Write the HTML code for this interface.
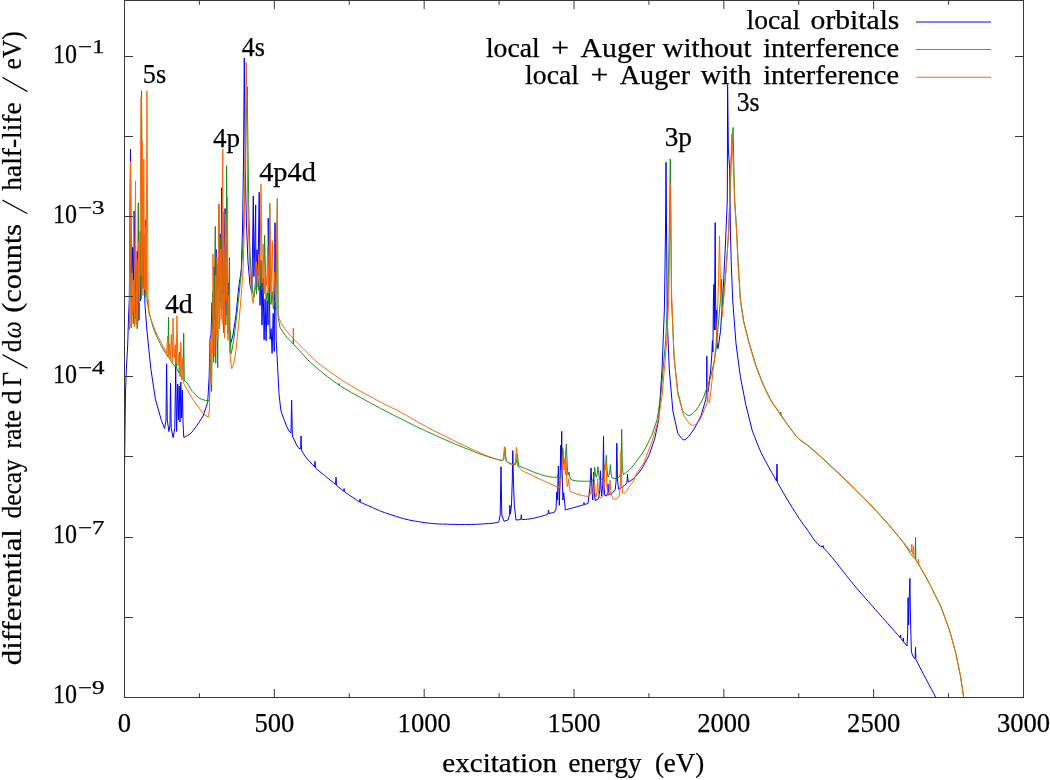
<!DOCTYPE html>
<html lang="en"><head><meta charset="utf-8"><title>differential decay rate</title>
<style>html,body{margin:0;padding:0;background:#fff;}body{width:1050px;height:780px;overflow:hidden;}svg{display:block;}text{font-family:'Liberation Serif', 'DejaVu Serif', serif;fill:#000;stroke:#000;stroke-width:0.25px;}</style>
</head><body>
<svg width="1050" height="780" viewBox="0 0 1050 780">
<rect x="0" y="0" width="1050" height="780" fill="#ffffff"/>
<defs><clipPath id="cp"><rect x="124.5" y="0.5" width="899.0" height="697.0"/></clipPath></defs>
<g clip-path="url(#cp)" fill="none" stroke-linejoin="round" stroke-linecap="butt">
<polyline stroke="#0000ff" stroke-width="1.0" points="124.6,465.0 125.0,430.0 125.5,392.0 126.3,370.0 127.7,345.0 128.6,315.0 129.3,300.0 130.5,149.2 131.5,301.4 132.7,247.3 133.8,285.1 134.1,211.0 136.0,313.0 137.2,251.1 138.3,320.5 139.4,267.5 140.5,301.0 142.6,206.0 142.8,288.6 143.9,268.1 145.0,305.4 145.1,307.0 146.9,330.0 150.8,368.5 155.4,399.2 161.5,420.8 163.1,424.7 164.6,428.5 166.0,420.0 166.6,363.8 167.3,420.0 168.9,431.5 170.0,425.0 170.5,383.0 171.2,428.0 173.1,437.7 174.8,428.0 175.7,367.0 176.6,431.5 177.7,384.0 178.5,420.0 179.2,386.0 180.0,422.0 180.8,382.0 181.6,418.0 182.4,390.0 183.1,425.0 183.8,437.4 185.6,436.5 187.4,435.7 189.2,434.6 191.1,432.9 193.1,430.6 195.0,428.0 196.9,425.4 199.0,422.4 201.0,419.2 203.1,416.0 207.7,402.3 209.2,376.0 210.0,339.0 211.0,334.9 212.0,302.6 213.0,328.2 214.0,266.9 215.0,320.6 216.1,249.4 217.1,305.1 218.1,264.2 219.1,284.2 220.1,234.1 221.1,302.1 221.5,187.8 223.1,294.3 225.1,208.5 225.1,305.4 226.2,245.4 227.2,315.4 228.2,283.0 229.2,331.9 230.2,341.4 230.2,345.4 233.0,335.0 236.0,315.0 238.6,288.0 241.3,270.0 242.5,230.0 243.5,160.0 244.3,58.0 245.3,170.0 246.5,225.0 248.0,262.0 250.0,285.0 251.8,292.0 251.9,291.6 253.3,195.9 253.9,276.5 255.7,204.9 255.9,289.1 257.0,249.8 258.0,275.4 259.2,192.3 260.0,305.4 261.0,260.5 262.0,325.1 263.0,278.3 264.1,339.7 265.1,299.0 266.1,340.8 267.1,300.4 268.1,325.1 268.2,218.3 270.1,339.3 271.1,328.7 272.1,353.3 273.2,313.4 274.2,351.4 275.0,222.8 276.2,340.5 276.3,341.8 279.0,393.9 280.8,410.0 282.0,414.0 284.3,420.2 286.7,426.4 289.0,431.0 291.0,433.0 291.6,400.0 292.4,436.0 294.3,439.9 296.2,444.1 298.1,447.6 300.0,449.0 300.7,448.0 301.0,436.0 301.5,450.0 303.2,453.2 305.0,456.0 307.4,459.1 309.9,461.8 312.3,464.4 314.7,467.0 315.0,461.4 315.4,468.0 317.6,469.8 319.9,471.7 322.1,473.5 324.4,475.3 326.6,477.2 328.9,479.0 331.1,480.8 333.4,482.7 335.6,484.5 336.0,477.3 336.5,485.5 338.9,487.4 341.4,489.3 343.8,491.2 344.1,488.6 344.4,491.8 346.6,493.3 348.7,494.7 350.9,496.2 353.1,497.6 355.3,499.1 357.4,500.5 359.6,502.0 360.0,499.0 360.4,502.3 362.8,503.3 365.2,504.4 367.6,505.4 370.0,506.5 372.4,507.5 374.7,508.6 377.1,509.6 379.5,510.6 381.9,511.6 384.3,512.5 386.7,513.3 389.1,514.1 391.5,514.9 394.0,515.7 396.4,516.5 398.8,517.2 401.2,518.0 403.6,518.6 406.0,519.3 408.5,519.8 410.9,520.4 413.3,520.8 415.7,521.2 418.2,521.6 420.6,522.0 423.0,522.4 425.4,522.7 427.9,523.0 430.3,523.3 432.7,523.5 435.1,523.7 437.6,523.9 440.0,524.0 442.4,524.1 444.9,524.1 447.3,524.2 449.7,524.3 452.1,524.3 454.6,524.4 457.0,524.4 459.4,524.5 461.8,524.5 464.3,524.5 466.7,524.5 469.1,524.5 471.5,524.4 474.0,524.4 476.4,524.3 478.8,524.2 481.2,524.0 483.6,523.9 486.0,523.7 488.5,523.6 490.9,523.4 493.3,523.2 495.1,522.9 496.9,522.5 498.7,522.0 500.2,515.0 501.0,466.7 501.8,515.0 504.0,521.3 506.0,520.6 508.0,520.0 509.5,515.0 509.9,505.3 510.4,514.0 511.5,505.0 512.3,480.0 512.8,450.7 513.4,480.0 514.3,505.0 516.0,520.0 518.4,519.8 520.8,519.5 521.3,514.7 521.8,519.5 522.7,519.5 525.1,519.4 527.5,519.2 529.9,518.9 532.3,518.5 534.7,518.0 537.1,517.4 539.5,516.8 541.9,516.1 544.3,515.4 546.7,514.7 548.0,514.0 548.5,510.0 549.0,513.5 550.9,513.1 552.8,512.7 554.7,512.0 556.0,509.0 556.8,492.0 557.4,500.0 558.4,466.0 559.3,505.3 560.1,480.0 560.7,445.3 561.2,470.0 561.7,431.3 562.3,480.0 562.9,500.0 563.7,492.7 565.3,510.0 566.7,509.6 569.1,508.9 571.5,508.2 573.9,507.5 576.4,506.9 578.8,506.2 581.2,505.5 583.6,504.8 584.0,502.5 584.4,504.6 586.2,504.0 588.0,503.3 590.0,486.7 591.1,468.0 592.0,490.0 592.7,500.0 593.7,472.0 594.5,495.0 595.3,500.7 597.0,499.7 598.7,498.7 599.8,490.0 600.4,470.7 601.0,488.0 601.6,496.0 602.8,485.0 603.5,436.3 604.1,485.0 604.7,495.3 606.7,496.0 607.6,492.0 608.0,484.0 608.5,492.0 609.3,494.7 611.0,493.8 612.7,492.7 615.3,489.3 616.2,480.0 616.8,443.3 617.5,480.0 618.7,489.3 620.7,488.0 622.7,486.7 624.7,485.1 626.7,483.3 627.2,480.0 627.5,474.0 627.9,480.0 628.5,482.0 630.9,480.5 633.3,478.7 635.3,476.8 637.3,474.6 639.3,472.1 641.3,469.3 643.3,466.1 645.3,462.4 647.3,458.5 649.3,454.7 654.7,438.7 658.7,420.0 662.0,369.8 664.4,308.8 665.5,230.0 666.0,162.3 666.6,240.0 667.3,321.0 669.3,369.8 672.9,411.2 677.8,433.2 679.8,436.0 681.9,438.7 683.9,440.0 686.3,438.9 688.8,436.3 691.2,433.2 693.7,429.7 696.1,425.3 698.5,420.6 701.0,416.1 705.9,399.0 706.5,390.0 706.8,356.3 707.3,388.0 708.3,391.7 710.7,369.8 711.8,355.0 712.4,340.5 712.9,352.0 713.4,300.0 713.9,284.4 714.3,330.0 714.7,290.0 715.2,222.6 715.6,300.0 716.0,330.0 716.4,310.0 716.8,342.0 718.0,348.7 720.5,331.3 723.6,282.0 725.6,241.0 727.3,200.0 727.6,84.6 728.4,150.0 729.7,170.0 730.4,230.8 731.2,261.5 732.7,300.0 736.0,343.6 740.3,376.3 745.8,404.7 752.3,430.8 754.5,436.4 756.7,442.1 758.9,447.6 761.1,452.6 763.3,457.0 765.5,461.1 767.6,465.1 769.8,469.0 771.9,472.8 774.0,476.5 776.5,481.0 777.0,464.0 777.4,482.5 779.5,486.1 781.6,489.8 783.7,493.4 785.8,497.0 787.9,500.6 790.0,504.0 792.3,507.6 794.6,511.3 796.9,514.9 799.1,518.3 801.4,521.7 803.7,525.0 806.0,528.0 808.4,531.3 810.7,534.9 813.1,538.4 815.5,541.6 817.9,544.3 820.2,546.1 822.6,546.8 823.1,545.5 823.6,548.0 825.7,550.3 827.9,552.6 830.0,555.0 832.4,557.8 834.7,560.7 837.1,563.6 839.4,566.6 841.8,569.7 844.2,572.7 846.5,575.7 848.9,578.7 851.2,581.6 853.6,584.5 856.0,587.4 858.4,590.2 860.9,593.0 863.3,595.8 865.7,598.6 868.1,601.3 870.6,604.1 873.0,606.8 875.4,609.6 877.8,612.4 880.2,615.1 882.7,617.8 885.1,620.5 887.5,623.2 889.9,626.0 892.4,628.7 894.8,631.4 897.2,634.2 898.8,636.0 900.3,637.8 900.6,635.0 901.0,638.5 903.0,641.0 903.3,638.0 903.7,642.0 905.4,644.0 907.0,646.0 907.6,635.0 908.1,597.6 908.6,625.0 909.2,600.0 909.9,578.4 910.5,620.0 911.4,652.1 913.0,656.2 914.7,658.7 915.2,658.0 915.5,647.1 915.9,659.5 917.9,663.4 919.8,667.1 921.8,670.9 923.7,674.6 925.6,678.3 927.6,682.1 929.7,685.9 931.7,689.7 933.8,693.5 935.8,697.5 937.0,700.0"/>
<polyline stroke="#118811" stroke-width="0.95" points="129.4,329.6 130.4,243.5 131.4,328.0 132.3,295.7 133.3,323.8 134.3,284.1 135.3,318.9 136.3,272.8 137.2,328.7 138.3,202.8 139.2,319.6 140.2,231.6 141.1,299.0 141.5,90.9 143.1,287.2 144.1,235.0 145.1,297.3 145.4,219.7 147.0,301.6 148.0,305.4 148.2,308.0 150.0,316.0 153.0,327.0 156.0,335.0 158.0,339.1 160.0,343.2 162.0,347.0 164.0,350.5 166.0,353.7 168.0,357.0 168.5,317.4 169.0,358.0 170.8,360.8 173.1,364.0 175.4,367.0 176.0,345.0 176.6,368.0 179.0,373.0 179.6,352.0 180.2,375.0 183.0,379.0 183.7,333.0 184.3,381.0 184.6,380.8 186.5,382.1 188.4,385.1 190.4,388.7 192.3,391.5 194.6,393.9 196.9,396.1 199.2,398.0 201.5,399.2 203.7,399.9 205.8,400.5 208.0,400.7 209.5,399.9 210.5,360.2 211.6,391.4 212.6,291.5 213.6,362.3 215.3,226.4 215.7,363.3 216.7,274.9 217.7,367.7 218.9,204.0 219.8,308.3 220.8,236.9 221.8,309.7 222.8,272.2 223.8,333.0 224.9,252.7 225.9,325.2 226.6,165.7 227.9,332.7 229.5,257.8 230.0,343.8 230.0,330.0 230.9,354.0 232.0,350.0 234.0,338.0 236.0,322.0 238.5,300.0 241.0,275.0 243.0,245.0 244.5,200.0 246.0,130.0 247.2,86.7 248.0,150.0 248.8,210.0 249.8,245.0 251.0,275.0 252.5,292.0 254.0,296.0 254.1,297.2 255.3,282.6 256.5,294.2 257.7,272.5 258.9,290.5 260.1,261.5 261.3,290.3 262.5,285.3 263.7,290.9 264.6,235.4 266.1,299.9 267.4,292.8 268.6,303.2 269.7,203.4 271.0,304.4 272.2,291.4 273.4,308.8 274.6,300.6 275.8,310.1 277.4,198.6 278.2,317.0 278.2,318.0 280.0,327.3 281.8,330.1 283.5,332.8 285.3,335.3 287.2,337.6 289.2,339.7 291.2,341.7 293.1,343.8 293.3,337.3 293.6,344.4 295.5,346.5 297.5,348.6 299.4,350.6 301.3,352.7 303.3,354.9 305.3,357.1 307.3,359.3 309.3,361.3 311.5,363.4 313.8,365.4 316.0,367.3 318.2,369.2 320.4,371.0 322.6,372.8 324.9,374.6 327.1,376.3 329.3,378.0 331.8,379.8 334.2,381.6 336.7,383.3 339.1,385.1 339.3,383.5 339.6,385.5 342.0,387.0 344.5,388.4 346.9,389.9 349.3,391.3 351.5,392.6 353.8,393.8 356.0,395.0 358.2,396.3 360.5,397.5 362.7,398.7 364.9,399.9 367.1,401.2 369.4,402.4 371.6,403.6 373.8,404.8 376.0,406.0 378.3,407.2 380.7,408.5 383.0,409.7 385.3,410.9 387.7,412.1 390.0,413.3 392.2,414.4 394.4,415.6 396.6,416.7 398.9,417.8 401.1,418.9 403.3,420.0 405.5,421.1 407.8,422.3 410.0,423.4 412.2,424.5 414.5,425.6 416.7,426.7 418.9,427.8 421.1,428.8 423.4,429.8 425.6,430.9 427.8,431.9 430.0,432.9 432.2,433.9 434.4,434.9 436.6,435.9 438.9,436.9 441.1,437.9 443.3,438.9 445.5,439.9 447.8,440.9 450.0,441.8 452.2,442.8 454.5,443.8 456.7,444.7 458.9,445.6 461.1,446.5 463.4,447.4 465.6,448.3 467.8,449.1 470.0,450.0 472.2,450.9 474.4,451.8 476.6,452.6 478.9,453.5 481.1,454.3 483.3,455.1 485.5,455.9 487.8,456.6 490.0,457.4 492.2,458.1 494.5,458.7 496.7,459.3 498.5,459.8 500.2,460.2 502.0,460.4 503.8,459.8 504.9,447.3 506.3,461.3 508.1,462.4 510.0,463.3 511.8,463.9 513.5,464.5 515.3,464.7 516.4,462.0 517.3,454.0 518.7,466.0 521.0,466.9 523.2,467.7 525.5,468.6 527.7,469.5 530.0,470.4 531.6,471.2 533.3,472.0 535.7,472.8 538.1,473.6 540.4,474.4 542.8,475.2 545.2,475.9 547.6,476.4 549.9,476.9 552.3,477.2 554.7,477.3 557.3,477.3 557.7,474.7 558.1,477.5 560.0,478.0 561.5,470.0 562.7,448.0 563.4,460.0 564.0,464.0 565.2,460.0 566.4,444.0 567.2,465.0 568.0,475.3 569.0,472.0 569.8,477.0 570.7,479.3 572.9,480.2 575.1,480.7 577.3,481.0 579.6,481.1 582.0,481.2 584.4,481.3 586.7,481.3 588.7,481.2 590.7,480.9 592.7,480.7 593.8,477.0 594.7,467.3 595.5,475.0 596.3,477.3 597.2,474.0 598.0,466.7 598.9,476.0 600.0,480.0 603.0,479.0 604.0,473.0 604.7,464.7 605.5,468.0 606.3,455.3 607.1,470.0 608.0,477.3 609.4,474.0 610.4,464.7 611.2,474.0 612.0,478.0 614.0,478.4 616.0,478.7 618.0,477.7 620.0,476.0 621.0,468.0 621.7,429.3 622.4,468.0 623.3,474.7 625.8,472.8 628.2,470.9 630.7,468.7 633.0,465.9 635.3,462.7 637.5,459.9 639.6,457.0 641.8,454.0 644.0,450.7 646.0,447.1 648.0,443.1 650.0,438.8 652.0,434.7 657.0,420.0 660.7,396.6 665.6,340.5 668.0,296.6 669.5,220.0 670.3,159.0 671.0,230.0 671.4,296.6 674.1,357.6 677.8,391.7 682.7,411.2 684.7,413.0 686.8,414.8 688.8,415.6 691.2,414.7 693.7,412.6 696.1,410.0 698.5,406.6 701.0,402.2 703.4,397.8 710.7,377.0 714.0,362.0 716.4,347.7 718.5,323.0 720.5,298.5 721.2,291.0 721.5,279.0 721.9,293.0 722.6,305.0 724.2,291.5 726.7,261.0 728.7,230.0 729.8,200.0 731.0,165.0 733.1,127.4 733.8,165.0 734.7,200.0 736.7,230.8 738.1,261.5 740.5,300.0 743.8,321.6 749.3,343.3 755.8,365.0 757.7,370.0 759.6,375.1 761.5,380.0 763.4,384.6 765.6,389.4 767.8,394.0 770.0,398.3 772.2,402.2 774.1,405.1 776.0,407.6 777.8,410.2 779.7,413.2 780.3,414.5 780.7,412.0 781.1,415.0 783.3,418.3 785.5,421.6 787.8,424.9 790.0,428.0 792.0,430.7 794.0,433.4 796.0,435.9 798.0,438.0 800.4,440.2 802.8,442.0 805.2,443.8 807.6,445.6 810.0,447.5 812.2,449.4 814.4,451.3 816.7,453.3 818.9,455.3 821.1,457.3 823.3,459.3 825.6,461.4 827.8,463.4 830.0,465.5 832.2,467.6 834.4,469.6 836.7,471.7 838.9,473.8 841.1,475.9 843.3,478.1 845.6,480.2 847.8,482.3 850.0,484.5 852.2,486.7 854.4,488.8 856.7,491.0 858.9,493.2 861.1,495.4 863.3,497.7 865.6,499.9 867.8,502.2 870.0,504.5 872.2,506.8 874.4,509.2 876.7,511.6 878.9,514.0 881.1,516.5 883.3,518.9 885.6,521.4 887.8,523.9 890.0,526.5 892.3,529.2 894.7,532.0 897.0,534.8 899.3,537.6 901.7,540.5 904.0,543.5 906.1,546.6 908.3,549.9 910.4,553.3 912.6,556.2 914.7,558.3 915.1,558.5 915.5,537.2 915.9,560.0 918.3,564.0 920.6,568.0 923.0,572.0 925.3,576.1 927.7,580.4 929.9,584.5 932.1,588.8 934.2,593.2 936.4,597.7 938.6,602.1 940.8,606.5 949.6,630.5 956.1,654.5 960.5,676.3 963.7,697.5 964.2,701.0"/>
<polyline stroke="#ff6508" stroke-width="1.0" points="129.3,327.3 130.5,161.0 131.0,326.6 131.9,273.3 132.7,314.5 133.6,280.3 134.4,326.9 135.5,180.9 136.1,324.5 137.0,259.2 137.8,319.8 138.7,241.4 139.5,302.5 141.1,96.8 141.2,275.6 142.1,140.9 142.9,295.5 143.8,159.3 144.6,289.8 145.4,226.5 146.3,293.3 146.9,90.9 148.0,301.8 148.2,300.0 148.9,313.0 152.0,322.0 153.9,327.1 155.9,332.0 157.6,335.5 159.2,338.7 161.6,343.4 164.0,348.0 166.5,353.0 167.7,336.0 168.4,355.7 169.4,343.8 170.3,359.2 171.3,334.5 172.3,363.2 173.0,318.0 174.2,358.4 175.2,344.7 176.1,364.1 176.9,315.8 178.0,365.7 179.0,354.0 180.0,376.7 180.8,342.3 181.9,380.5 182.8,357.7 183.8,383.9 183.8,383.8 185.9,387.4 188.0,391.0 189.9,394.4 191.9,397.7 193.8,400.8 196.2,404.0 198.5,407.0 200.8,410.2 203.1,413.1 206.0,416.0 208.5,416.9 209.3,410.0 209.5,410.3 210.3,339.8 211.2,384.0 212.0,334.5 212.8,353.1 212.9,254.0 214.5,356.3 215.4,275.5 216.2,334.6 217.0,257.2 217.9,339.4 218.9,204.0 219.6,328.8 220.4,249.4 221.2,318.7 222.8,149.0 222.9,324.2 223.7,211.4 224.6,337.8 225.4,214.5 226.2,300.5 227.6,197.7 227.9,340.4 228.8,294.9 229.6,352.0 229.8,350.0 230.8,363.0 231.8,368.7 233.0,366.0 234.5,360.0 235.9,350.8 238.0,330.0 240.4,305.9 242.0,285.0 243.1,270.0 244.2,230.0 245.2,160.0 245.8,100.0 246.3,62.4 246.8,100.0 247.3,170.0 248.0,215.0 249.0,245.0 250.0,270.0 251.5,292.0 253.0,303.2 253.1,302.2 254.2,290.5 255.3,288.4 256.5,261.7 257.6,286.8 258.7,254.1 259.8,285.9 261.0,184.2 262.1,283.0 263.2,244.0 264.3,293.9 265.4,271.4 266.6,285.7 267.7,246.1 268.8,293.3 269.7,203.4 271.0,291.1 272.4,240.8 273.3,305.5 274.4,272.1 275.5,301.5 277.4,198.6 277.8,315.5 278.9,316.0 279.0,318.5 281.3,323.3 283.1,326.3 284.9,328.9 286.7,331.3 288.8,333.8 291.0,336.1 293.1,338.4 293.3,328.0 293.6,339.0 295.5,340.9 297.5,342.9 299.4,344.8 301.3,346.7 303.3,348.7 305.3,350.7 307.3,352.7 309.3,354.7 311.5,357.0 313.8,359.2 316.0,361.3 318.2,363.1 320.4,364.9 322.6,366.5 324.9,368.1 327.1,369.7 329.3,371.3 331.5,372.9 333.8,374.5 336.0,376.1 338.2,377.7 340.5,379.2 342.7,380.7 344.9,382.1 347.1,383.5 349.4,384.8 351.6,386.1 353.8,387.4 356.0,388.7 358.2,390.0 360.4,391.2 362.6,392.4 364.9,393.6 367.1,394.8 369.3,396.0 371.5,397.2 373.8,398.5 376.0,399.7 378.2,401.0 380.5,402.2 382.7,403.3 385.1,404.5 387.6,405.6 390.0,406.7 392.2,407.8 394.4,409.0 396.6,410.1 398.9,411.3 401.1,412.5 403.3,413.7 405.5,414.9 407.8,416.2 410.0,417.5 412.2,418.8 414.5,420.0 416.7,421.3 418.9,422.6 421.1,423.8 423.4,425.1 425.6,426.3 427.8,427.5 430.0,428.7 432.2,429.8 434.4,431.0 436.6,432.0 438.9,433.1 441.1,434.2 443.3,435.3 445.5,436.4 447.8,437.5 450.0,438.7 452.2,439.8 454.5,440.9 456.7,442.0 458.9,443.1 461.1,444.1 463.4,445.2 465.6,446.2 467.8,447.3 470.0,448.3 472.2,449.3 474.4,450.4 476.6,451.4 478.9,452.4 481.1,453.4 483.3,454.3 485.5,455.2 487.8,456.0 490.0,456.9 492.2,457.7 494.5,458.4 496.7,459.1 498.5,459.7 500.2,460.2 502.0,460.4 503.3,459.3 504.4,446.7 505.7,460.7 507.9,462.5 510.0,464.0 512.7,464.9 514.0,462.7 515.3,464.7 516.4,447.3 517.7,466.7 519.6,468.3 521.4,470.0 523.3,471.3 525.5,472.4 527.8,473.3 530.0,474.3 531.6,475.1 533.3,476.0 535.6,477.1 538.0,478.2 540.3,479.3 542.6,480.4 545.0,481.4 547.3,482.5 549.7,483.5 552.0,484.5 553.8,485.3 555.5,486.1 557.3,486.7 560.0,487.3 562.0,470.7 562.6,465.0 563.3,450.0 564.0,470.0 564.7,458.7 565.3,475.0 566.0,460.0 566.6,478.0 567.3,486.7 568.1,484.0 568.7,478.7 569.3,486.0 570.0,491.3 572.4,492.4 574.7,493.3 576.9,494.0 579.1,494.7 581.4,495.3 583.6,495.8 585.8,496.2 588.0,496.3 590.0,494.7 590.8,492.0 591.3,486.7 591.9,493.0 593.5,495.0 594.4,482.7 595.2,494.0 596.0,497.3 597.0,492.0 597.6,478.7 598.4,492.0 600.0,498.0 603.0,496.0 604.3,485.0 605.0,464.0 605.5,470.0 606.0,462.0 606.8,485.0 608.0,496.0 609.2,492.0 610.0,480.0 610.8,492.0 612.7,498.7 614.4,499.1 616.0,499.3 617.6,498.1 619.3,496.0 620.4,485.0 621.0,451.3 621.7,485.0 622.7,493.3 625.3,492.7 627.0,490.4 628.7,487.3 631.0,484.5 633.3,481.3 636.0,474.7 638.0,471.3 640.0,468.3 642.0,465.6 644.0,462.7 652.0,441.3 658.0,421.3 662.0,396.6 666.8,340.5 668.8,296.6 669.8,230.0 670.3,184.0 670.9,240.0 671.7,296.6 674.1,357.6 677.8,394.1 683.9,416.1 686.0,418.9 688.1,421.9 690.3,424.4 692.4,425.4 694.4,425.0 696.5,423.8 698.5,422.2 700.5,419.0 702.6,413.9 704.6,408.8 707.2,403.0 707.6,362.4 708.0,401.5 709.5,402.7 711.0,390.0 713.2,369.8 714.4,360.0 716.0,343.6 717.4,314.9 718.5,282.0 719.5,235.9 720.5,288.2 722.2,317.0 724.2,292.3 726.7,261.5 728.7,230.8 729.7,200.0 730.6,170.0 731.8,134.0 732.6,150.0 733.5,170.0 734.5,200.0 736.5,230.8 737.9,261.5 740.3,300.0 743.6,321.8 749.1,343.6 755.6,365.4 757.5,370.4 759.4,375.5 761.3,380.5 763.2,385.0 765.4,389.8 767.6,394.4 769.8,398.6 772.0,402.5 773.9,405.3 775.8,407.8 777.7,410.4 779.6,413.4 780.5,415.6 781.0,413.0 781.5,416.5 783.6,419.4 785.8,422.3 787.9,425.2 790.0,428.0 792.0,430.7 794.0,433.4 796.0,435.9 798.0,438.0 800.0,439.7 802.0,441.1 804.0,442.5 806.0,444.0 808.0,445.4 810.0,447.0 812.2,448.9 814.4,450.8 816.7,452.7 818.9,454.7 821.1,456.8 823.3,458.8 825.6,460.9 827.8,462.9 830.0,465.0 832.2,467.1 834.4,469.1 836.7,471.2 838.9,473.3 841.1,475.4 843.3,477.6 845.6,479.7 847.8,481.8 850.0,484.0 852.2,486.2 854.4,488.3 856.7,490.5 858.9,492.7 861.1,494.9 863.3,497.2 865.6,499.4 867.8,501.7 870.0,504.0 872.2,506.3 874.4,508.7 876.7,511.1 878.9,513.5 881.1,516.0 883.3,518.4 885.6,520.9 887.8,523.4 890.0,526.0 892.3,528.7 894.7,531.5 897.0,534.4 899.3,537.3 901.7,540.1 904.0,543.0 906.4,546.0 908.9,549.0 911.3,552.0 911.8,544.2 912.3,553.0 913.1,554.5 913.5,546.0 913.9,556.0 914.7,558.3 916.4,560.6 918.1,563.0 918.4,559.0 918.8,564.5 921.0,568.4 923.2,572.2 925.5,576.1 927.7,580.2 929.9,584.4 932.1,588.7 934.2,593.1 936.4,597.5 938.6,601.9 940.8,606.3 949.6,630.3 956.1,654.3 960.5,676.1 963.7,697.5 964.2,701.0"/>
</g>
<g stroke="#383838" stroke-width="1" fill="none">
<rect x="124.5" y="0.5" width="899.0" height="697.0"/>
<path d="M199.42 697.5V693.2M199.42 0.5V4.8"/>
<path d="M274.33 697.5V689.0M274.33 0.5V9.0"/>
<path d="M349.25 697.5V693.2M349.25 0.5V4.8"/>
<path d="M424.17 697.5V689.0M424.17 0.5V9.0"/>
<path d="M499.08 697.5V693.2M499.08 0.5V4.8"/>
<path d="M574.00 697.5V689.0M574.00 0.5V9.0"/>
<path d="M648.92 697.5V693.2M648.92 0.5V4.8"/>
<path d="M723.83 697.5V689.0M723.83 0.5V9.0"/>
<path d="M798.75 697.5V693.2M798.75 0.5V4.8"/>
<path d="M873.67 697.5V689.0M873.67 0.5V9.0"/>
<path d="M948.58 697.5V693.2M948.58 0.5V4.8"/>
<path d="M124.5 56.5H133.0M1023.5 56.5H1015.0"/>
<path d="M124.5 136.5H133.0M1023.5 136.5H1015.0"/>
<path d="M124.5 216.5H133.0M1023.5 216.5H1015.0"/>
<path d="M124.5 296.5H133.0M1023.5 296.5H1015.0"/>
<path d="M124.5 376.5H133.0M1023.5 376.5H1015.0"/>
<path d="M124.5 456.5H133.0M1023.5 456.5H1015.0"/>
<path d="M124.5 537.5H133.0M1023.5 537.5H1015.0"/>
<path d="M124.5 617.5H133.0M1023.5 617.5H1015.0"/>
</g>
<g fill="none">
<path d="M916 22H991" stroke="#0000ff" stroke-width="1.15"/>
<path d="M916 49.5H991" stroke="#118811" stroke-width="0.78"/>
<path d="M916 77.3H991" stroke="#ff6508" stroke-width="1.1"/>
</g>
<text y="28.7" font-size="26.5"><tspan x="746.6" textLength="53.7" lengthAdjust="spacingAndGlyphs">local</tspan> <tspan x="810.6" textLength="88.8" lengthAdjust="spacingAndGlyphs">orbitals</tspan></text>
<text y="56.6" font-size="26.5"><tspan x="485.9" textLength="53.8" lengthAdjust="spacingAndGlyphs">local</tspan> <tspan x="551.2" textLength="17.8" lengthAdjust="spacingAndGlyphs">+</tspan> <tspan x="580.6" textLength="74.3" lengthAdjust="spacingAndGlyphs">Auger</tspan> <tspan x="662.4" textLength="89.1" lengthAdjust="spacingAndGlyphs">without</tspan> <tspan x="763.2" textLength="135.9" lengthAdjust="spacingAndGlyphs">interference</tspan></text>
<text y="84.4" font-size="26.5"><tspan x="525.1" textLength="53.8" lengthAdjust="spacingAndGlyphs">local</tspan> <tspan x="590.4" textLength="17.8" lengthAdjust="spacingAndGlyphs">+</tspan> <tspan x="619.8" textLength="70.3" lengthAdjust="spacingAndGlyphs">Auger</tspan> <tspan x="700.8" textLength="50.7" lengthAdjust="spacingAndGlyphs">with</tspan> <tspan x="763.2" textLength="135.9" lengthAdjust="spacingAndGlyphs">interference</tspan></text>
<text y="732.3" font-size="26.6"><tspan x="117.8" textLength="13.3" lengthAdjust="spacingAndGlyphs">0</tspan></text>
<text y="732.3" font-size="26.6"><tspan x="254.4" textLength="39.9" lengthAdjust="spacingAndGlyphs">500</tspan></text>
<text y="732.3" font-size="26.6"><tspan x="397.6" textLength="53.2" lengthAdjust="spacingAndGlyphs">1000</tspan></text>
<text y="732.3" font-size="26.6"><tspan x="547.4" textLength="53.2" lengthAdjust="spacingAndGlyphs">1500</tspan></text>
<text y="732.3" font-size="26.6"><tspan x="697.2" textLength="53.2" lengthAdjust="spacingAndGlyphs">2000</tspan></text>
<text y="732.3" font-size="26.6"><tspan x="847.1" textLength="53.2" lengthAdjust="spacingAndGlyphs">2500</tspan></text>
<text y="732.3" font-size="26.6"><tspan x="996.9" textLength="53.2" lengthAdjust="spacingAndGlyphs">3000</tspan></text>
<text y="772.1" font-size="26.5"><tspan x="442.3" textLength="114.8" lengthAdjust="spacingAndGlyphs">excitation</tspan> <tspan x="568.6" textLength="72.8" lengthAdjust="spacingAndGlyphs">energy</tspan> <tspan x="654.9" textLength="49.4" lengthAdjust="spacingAndGlyphs">(eV)</tspan></text>
<text y="62.7" font-size="26.6"><tspan x="53.0" textLength="24.0" lengthAdjust="spacingAndGlyphs">10</tspan><tspan x="78.0" y="53.4" font-size="18.6" textLength="26.6" lengthAdjust="spacingAndGlyphs">−1</tspan></text>
<text y="222.9" font-size="26.6"><tspan x="53.0" textLength="24.0" lengthAdjust="spacingAndGlyphs">10</tspan><tspan x="78.0" y="213.6" font-size="18.6" textLength="26.6" lengthAdjust="spacingAndGlyphs">−3</tspan></text>
<text y="383.1" font-size="26.6"><tspan x="53.0" textLength="24.0" lengthAdjust="spacingAndGlyphs">10</tspan><tspan x="78.0" y="373.8" font-size="18.6" textLength="26.6" lengthAdjust="spacingAndGlyphs">−4</tspan></text>
<text y="543.2" font-size="26.6"><tspan x="53.0" textLength="24.0" lengthAdjust="spacingAndGlyphs">10</tspan><tspan x="78.0" y="533.9" font-size="18.6" textLength="26.6" lengthAdjust="spacingAndGlyphs">−7</tspan></text>
<text y="703.4" font-size="26.6"><tspan x="53.0" textLength="24.0" lengthAdjust="spacingAndGlyphs">10</tspan><tspan x="78.0" y="694.1" font-size="18.6" textLength="26.6" lengthAdjust="spacingAndGlyphs">−9</tspan></text>
<text transform="rotate(-90)" y="21.3" font-size="26.5"><tspan x="-665.2" y="21.3" textLength="136.0" lengthAdjust="spacingAndGlyphs">differential</tspan> <tspan x="-518.4" textLength="59.2" lengthAdjust="spacingAndGlyphs">decay</tspan> <tspan x="-448.5" textLength="38.5" lengthAdjust="spacingAndGlyphs">rate</tspan> <tspan x="-404.5" textLength="14.1" lengthAdjust="spacingAndGlyphs">d</tspan><tspan x="-386.2" textLength="14.2" lengthAdjust="spacingAndGlyphs">Γ</tspan><tspan x="-370.1" y="28.4" font-size="41" textLength="17.2" lengthAdjust="spacingAndGlyphs" style="stroke:#fff;stroke-width:0.9px">/</tspan><tspan x="-352.3" y="21.3" textLength="12.7" lengthAdjust="spacingAndGlyphs">d</tspan><tspan x="-338.2" textLength="16.9" lengthAdjust="spacingAndGlyphs" font-style="italic">ω</tspan> <tspan x="-312.8" textLength="88.8" lengthAdjust="spacingAndGlyphs">(counts</tspan> <tspan x="-215.4" y="28.4" font-size="41" textLength="17.1" lengthAdjust="spacingAndGlyphs" style="stroke:#fff;stroke-width:0.9px">/</tspan> <tspan x="-190.7" y="21.3" textLength="88.3" lengthAdjust="spacingAndGlyphs">half-life</tspan> <tspan x="-93.6" y="28.4" font-size="41" textLength="18.0" lengthAdjust="spacingAndGlyphs" style="stroke:#fff;stroke-width:0.9px">/</tspan> <tspan x="-69.4" y="21.3" textLength="38.1" lengthAdjust="spacingAndGlyphs">eV)</tspan></text>
<text y="83.0" font-size="26.5"><tspan x="142.8" textLength="23.3" lengthAdjust="spacingAndGlyphs">5s</tspan></text>
<text y="55.5" font-size="26.5"><tspan x="241.7" textLength="23.3" lengthAdjust="spacingAndGlyphs">4s</tspan></text>
<text y="146.5" font-size="26.5"><tspan x="212.9" textLength="27.0" lengthAdjust="spacingAndGlyphs">4p</tspan></text>
<text y="180.7" font-size="26.5"><tspan x="259.2" textLength="56.6" lengthAdjust="spacingAndGlyphs">4p4d</tspan></text>
<text y="313.2" font-size="26.5"><tspan x="164.9" textLength="27.8" lengthAdjust="spacingAndGlyphs">4d</tspan></text>
<text y="145.7" font-size="26.5"><tspan x="664.7" textLength="27.2" lengthAdjust="spacingAndGlyphs">3p</tspan></text>
<text y="111.2" font-size="26.5"><tspan x="736.8" textLength="22.8" lengthAdjust="spacingAndGlyphs">3s</tspan></text>
</svg>
</body></html>
